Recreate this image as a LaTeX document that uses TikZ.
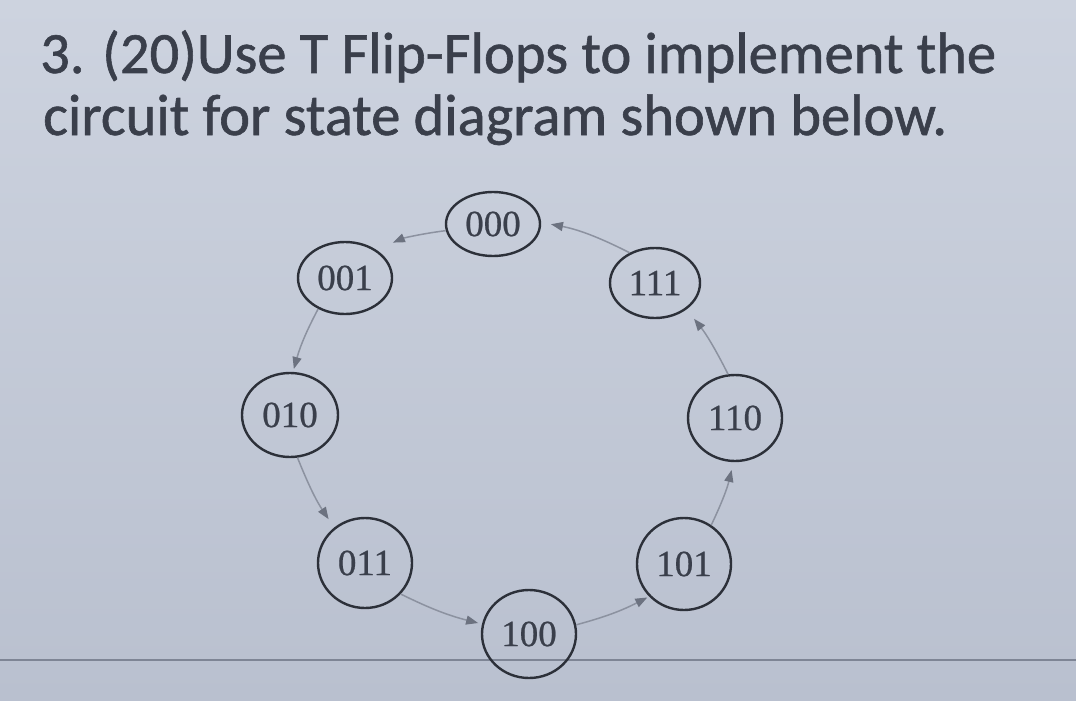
\documentclass[tikz,border=0pt]{standalone}
\usepackage{fontspec}
\setmainfont{Liberation Serif}
\newfontfamily\titlefont[FakeBold=1]{Carlito}
\newfontfamily\digitfont[FakeBold=0.6]{Liberation Serif}
\usetikzlibrary{shapes.geometric,arrows.meta}
\definecolor{bgtop}{HTML}{CDD3DF}
\definecolor{bgbot}{HTML}{B9C0CF}
\definecolor{ink}{HTML}{3A3F4B}
\definecolor{ring}{HTML}{2C3039}
\definecolor{wire}{HTML}{8C92A0}
\definecolor{tip}{HTML}{6C7280}
\definecolor{rule}{HTML}{7E8595}
\tikzset{
  state/.style={ellipse, draw=ring, line width=2.4pt, inner sep=0pt,
    minimum width=94pt, text=ink, font=\digitfont\fontsize{37}{37}\selectfont},
  trans/.style={draw=wire, line width=1.5pt,
    -{Triangle[length=12pt,width=9pt,fill=tip,color=tip]}},
  titletext/.style={anchor=base west, inner sep=0pt, text=ink,
    font=\titlefont\fontsize{58.5}{58.5}\selectfont}
}
\begin{document}
\begin{tikzpicture}[x=1pt,y=-1pt]
\useasboundingbox (0,0) rectangle (1076,701);
\shade[top color=bgtop, bottom color=bgbot] (0,0) rectangle (1076,701);
\node[titletext] (t1) at (40,73) {3. (20)Use T Flip-Flops to implement the};
\node[titletext] (t2) at (43,135) {circuit for state diagram shown below.};
\coordinate (rl) at (0,660);
\coordinate (rr) at (1076,660);
\draw[rule, line width=2pt] (rl) -- (rr);
\node[state, minimum height=64pt] (s000) at (493,224) {000};
\node[state, minimum height=72pt] (s001) at (345,278) {001};
\node[state, minimum height=70pt, minimum width=90pt] (s111) at (655,283) {111};
\node[state, minimum height=84pt, minimum width=96pt] (s010) at (290,415) {010};
\node[state, minimum height=86pt] (s110) at (735,418) {110};
\node[state, minimum height=90pt] (s011) at (365,563) {011};
\node[state, minimum height=92pt] (s101) at (684,564) {101};
\node[state, minimum height=88pt] (s100) at (529,634) {100};
\draw[trans, shorten >=18pt] (s000.188) to[bend right=8] (s001.42);
\draw[trans, shorten >=3pt] (s001.229) to[bend right=6] (s010.86);
\draw[trans, shorten >=10pt] (s010.280) to[bend right=6] (s011.131);
\draw[trans, shorten >=4pt] (s011.319) to[bend right=6] (s100.168);
\draw[trans, shorten >=2pt] (s100.11) to[bend right=6] (s101.223);
\draw[trans, shorten >=8pt] (s101.55) to[bend right=6] (s110.268);
\draw[trans, shorten >=12pt] (s110.99) to[bend right=6] (s111.320);
\draw[trans, shorten >=10pt] (s111.130) to[bend right=8] (s000.2);
\end{tikzpicture}
\end{document}
